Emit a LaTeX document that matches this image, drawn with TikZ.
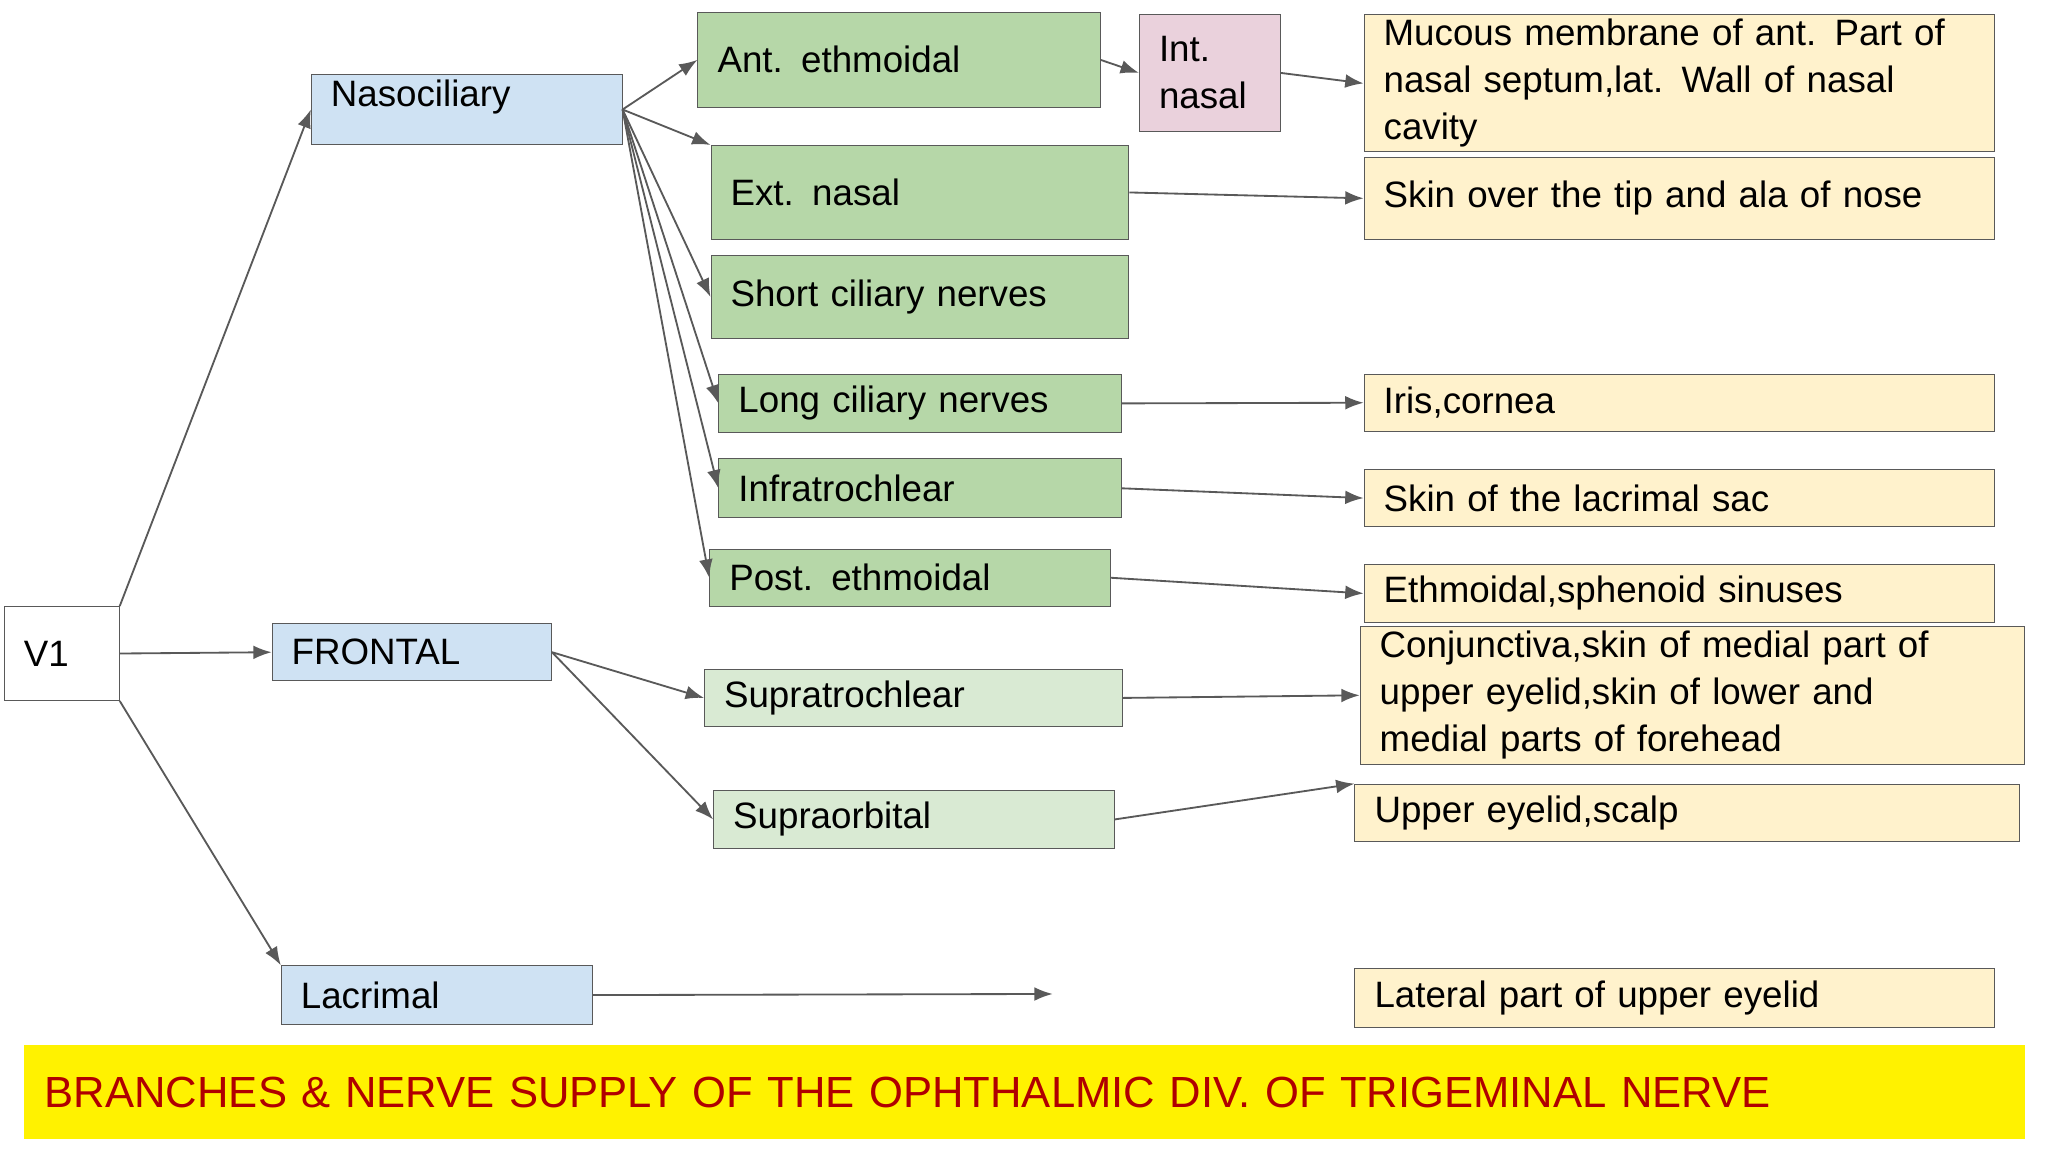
\documentclass[tikz,border=0pt]{standalone}
\usepackage{fontspec}
\setmainfont{Liberation Sans}
\usetikzlibrary{arrows.meta}
\definecolor{lineColor}{HTML}{595959}
\definecolor{mainColor}{HTML}{CFE2F3}
\definecolor{branchColor}{HTML}{B6D7A8}
\definecolor{subColor}{HTML}{D9EAD3}
\definecolor{innerColor}{HTML}{EAD1DC}
\definecolor{supplyColor}{HTML}{FFF2CC}
\definecolor{titleColor}{HTML}{B00000}
\tikzset{box/.style={draw=lineColor, anchor=north west, align=left, inner xsep=0.3cm, inner ysep=0pt, font=\fontsize{16}{20.5}\selectfont}}
\tikzset{link/.style={draw=lineColor, thick, -{Latex[length=8pt, width=6pt]}}}

\begin{document}
\begin{tikzpicture}[x=0.02cm, y=-0.02cm]
\useasboundingbox (0,0) rectangle (1568,882);
% Nodes
\node (v1) [box, fill=white, minimum width=1.76cm, minimum height=1.44cm, text width=1.16cm] at (3,464) {V1};
\node (naso) [box, fill=mainColor, minimum width=4.76cm, minimum height=1.06cm, text width=4.16cm, text depth=0.5cm] at (238,57) {Nasociliary};
\node (front) [box, fill=mainColor, minimum width=4.28cm, minimum height=0.88cm, text width=3.68cm] at (208,477) {FRONTAL};
\node (lacr) [box, fill=mainColor, minimum width=4.76cm, minimum height=0.9cm, text width=4.16cm] at (215,739) {Lacrimal};

\node (ant) [box, fill=branchColor, minimum width=6.16cm, minimum height=1.46cm, text width=5.56cm] at (534,9) {Ant. ethmoidal};
\node (int) [box, fill=innerColor, minimum width=2.16cm, minimum height=1.78cm, text width=1.56cm] at (872,11) {Int.\\nasal};
\node (ext) [box, fill=branchColor, minimum width=6.4cm, minimum height=1.44cm, text width=5.8cm] at (544,111) {Ext. nasal};
\node (short) [box, fill=branchColor, minimum width=6.4cm, minimum height=1.28cm, text width=5.8cm] at (544,195) {Short ciliary nerves};
\node (long) [box, fill=branchColor, minimum width=6.16cm, minimum height=0.9cm, text width=5.56cm] at (550,286) {Long ciliary nerves};
\node (infra) [box, fill=branchColor, minimum width=6.16cm, minimum height=0.9cm, text width=5.56cm] at (550,351) {Infratrochlear};
\node (post) [box, fill=branchColor, minimum width=6.14cm, minimum height=0.88cm, text width=5.54cm] at (543,420) {Post. ethmoidal};
\node (supt) [box, fill=subColor, minimum width=6.4cm, minimum height=0.88cm, text width=5.8cm] at (539,512) {Supratrochlear};
\node (supo) [box, fill=subColor, minimum width=6.14cm, minimum height=0.88cm, text width=5.54cm] at (546,605) {Supraorbital};

\node (muc) [box, fill=supplyColor, minimum width=9.66cm, minimum height=2.1cm, text width=9.06cm] at (1044,11) {Mucous membrane of ant. Part of\\nasal septum,lat. Wall of nasal\\cavity};
\node (tip) [box, fill=supplyColor, minimum width=9.66cm, minimum height=1.26cm, text width=9.06cm] at (1044,120) {Skin over the tip and ala of nose};
\node (iris) [box, fill=supplyColor, minimum width=9.66cm, minimum height=0.88cm, text width=9.06cm] at (1044,286) {Iris,cornea};
\node (sac) [box, fill=supplyColor, minimum width=9.66cm, minimum height=0.88cm, text width=9.06cm] at (1044,359) {Skin of the lacrimal sac};
\node (sinus) [box, fill=supplyColor, minimum width=9.66cm, minimum height=0.88cm, text width=9.06cm] at (1044,432) {Ethmoidal,sphenoid sinuses};
\node (conj) [box, fill=supplyColor, minimum width=10.18cm, minimum height=2.12cm, text width=9.58cm] at (1041,479) {Conjunctiva,skin of medial part of\\upper eyelid,skin of lower and\\medial parts of forehead};
\node (lid) [box, fill=supplyColor, minimum width=10.18cm, minimum height=0.88cm, text width=9.58cm] at (1037,600) {Upper eyelid,scalp};
\node (lat) [box, fill=supplyColor, minimum width=9.8cm, minimum height=0.9cm, text width=9.2cm] at (1037,741) {Lateral part of upper eyelid};

\node (title) [anchor=north west, fill=yellow, text=titleColor, align=left, inner xsep=0.32cm, minimum width=30.64cm, minimum height=1.44cm, text width=30cm, font=\fontsize{19}{23}\selectfont] at (18,800) {BRANCHES \& NERVE SUPPLY OF THE OPHTHALMIC DIV. OF TRIGEMINAL NERVE};
\coordinate (lacrEnd) at (806,761);

% Connectors
\draw [link] (v1.north east) -- (naso.west);
\draw [link] (v1.east) -- (front.west);
\draw [link] (v1.south east) -- (lacr.north west);

\draw [link] (naso.east) -- (ant.west);
\draw [link] (naso.east) -- (ext.north west);
\draw [link] (naso.east) -- (short.west);
\draw [link] (naso.east) -- (long.west);
\draw [link] (naso.east) -- (infra.west);
\draw [link] (naso.east) -- (post.west);
\draw [link] (ant.east) -- (int.west);
\draw [link] (int.east) -- (muc.west);

\draw [link] (ext.east) -- (tip.west);
\draw [link] (long.east) -- (iris.west);
\draw [link] (infra.east) -- (sac.west);
\draw [link] (post.east) -- (sinus.west);

\draw [link] (front.east) -- (supt.west);
\draw [link] (front.east) -- (supo.west);
\draw [link] (supt.east) -- (conj.west);
\draw [link] (supo.east) -- (lid.north west);
\draw [link] (lacr.east) -- (lacrEnd);
\end{tikzpicture}
\end{document}
